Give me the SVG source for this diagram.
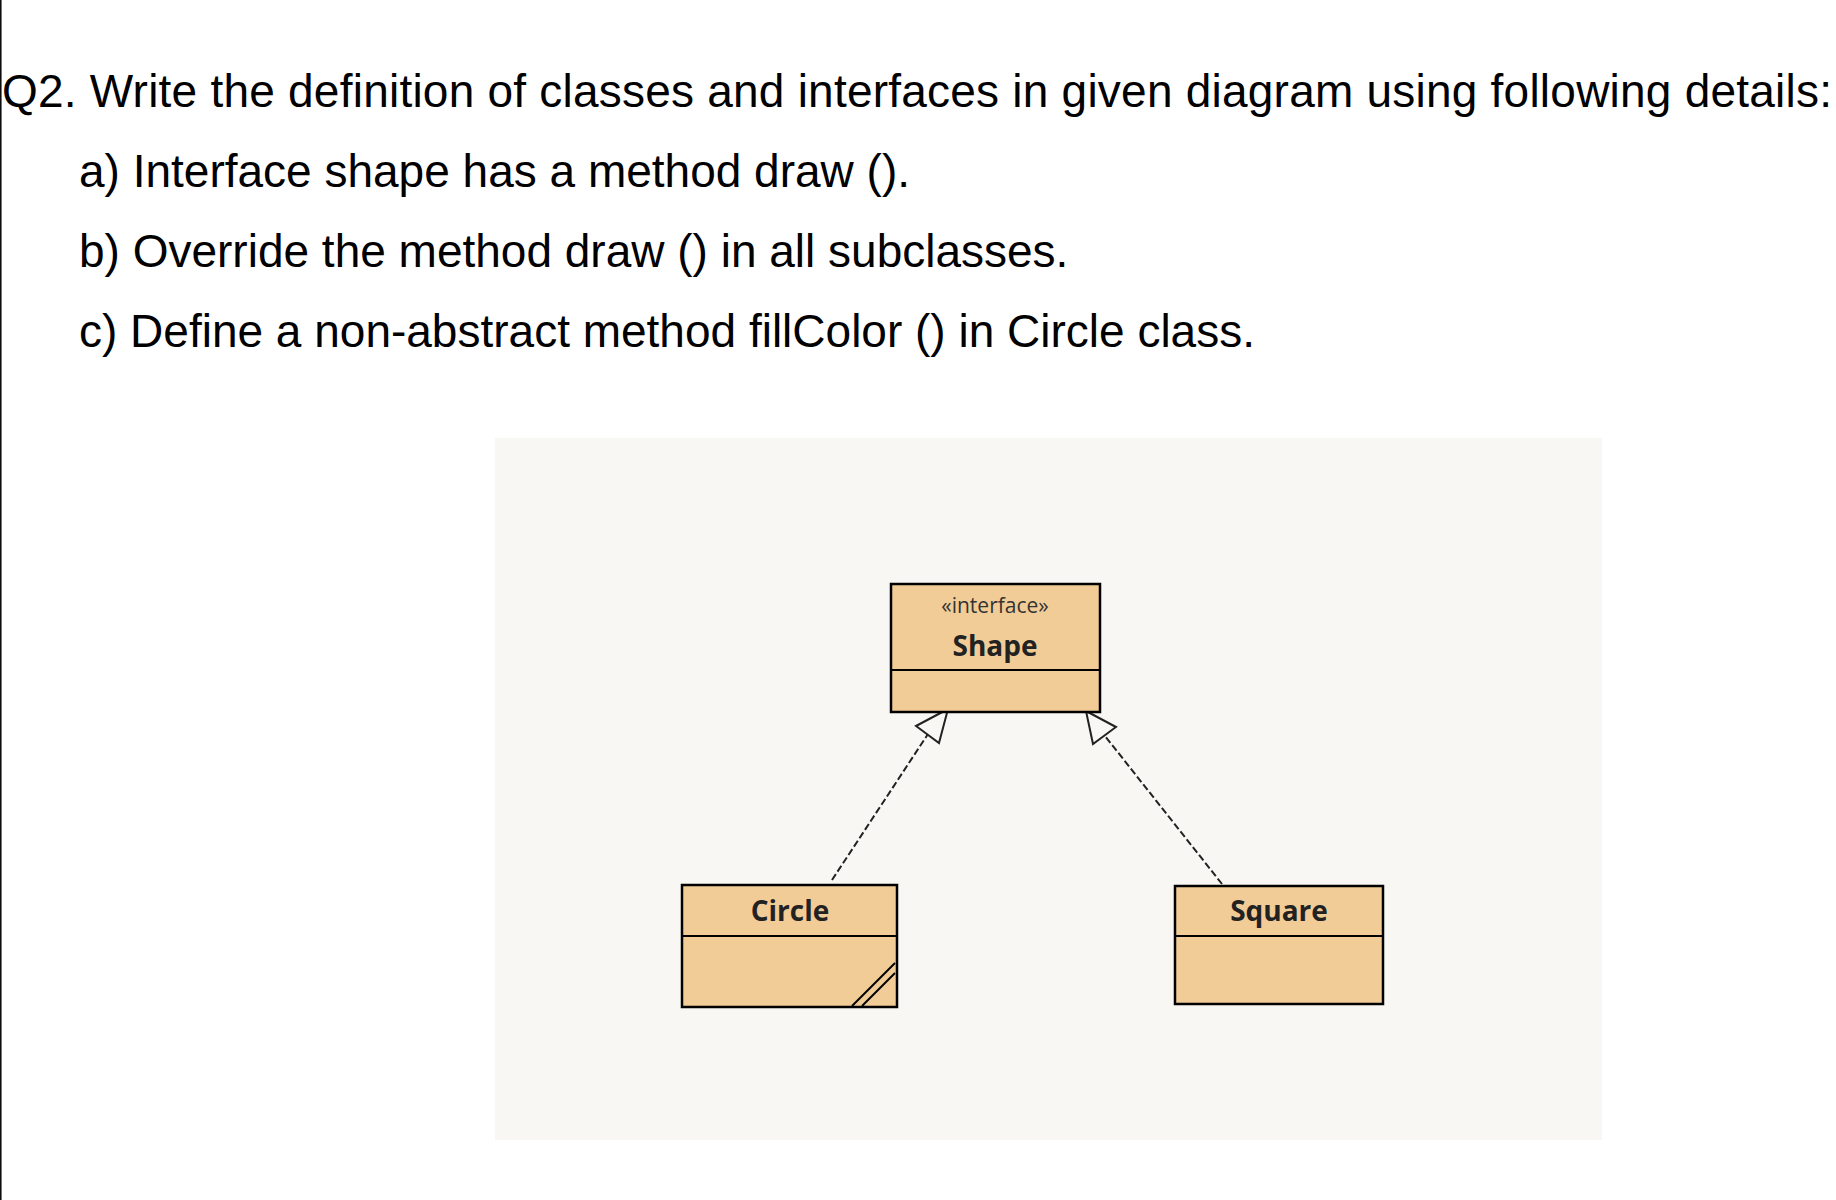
<svg xmlns="http://www.w3.org/2000/svg" width="1836" height="1200" viewBox="0 0 1836 1200">
<style>
.q{font-family:"Liberation Sans",Arial,sans-serif;font-size:46px;fill:#000}
.box{fill:#f2cc96;stroke:#000;stroke-width:2.5}
.nm{font-family:"Open Sans","Noto Sans",sans-serif;font-weight:bold;font-size:28px;fill:#222;text-anchor:middle}
.st{font-family:"Open Sans","Noto Sans",sans-serif;font-size:21px;fill:#333;text-anchor:middle}
.dash{stroke:#222;stroke-width:2;stroke-dasharray:7,3;fill:none}
.tri{fill:#f8f7f3;stroke:#222;stroke-width:2}
</style>
<rect width="1836" height="1200" fill="#fff"/>
<line x1="0.8" y1="0" x2="0.8" y2="1200" stroke="#000" stroke-width="1.5"/>
<text class="q" x="2" y="107" textLength="1830">Q2. Write the definition of classes and interfaces in given diagram using following details:</text>
<text class="q" x="79" y="187">a) Interface shape has a method draw ().</text>
<text class="q" x="79" y="267">b) Override the method draw () in all subclasses.</text>
<text class="q" x="79" y="347">c) Define a non-abstract method fillColor () in Circle class.</text>
<rect x="495" y="438" width="1107" height="702" fill="#f8f7f3"/>
<g id="connectors">
<line class="dash" x1="832" y1="880" x2="928" y2="734"/>
<polygon class="tri" points="948,709 916,726 939,743"/>
<line class="dash" x1="1222" y1="884" x2="1105" y2="736"/>
<polygon class="tri" points="1086,711 1093,744 1116,727"/>
</g>
<g id="shape">
<rect class="box" x="891" y="584" width="209" height="128"/>
<line x1="891" y1="670" x2="1100" y2="670" stroke="#000" stroke-width="2"/>
<text class="st" x="995" y="613">«interface»</text>
<text class="nm" x="995" y="656">Shape</text>
</g>
<g id="circle">
<rect class="box" x="682" y="885" width="215" height="122" stroke-width="6"/>
<line x1="682" y1="936" x2="897" y2="936" stroke="#000" stroke-width="2"/>
<line x1="852" y1="1006" x2="895" y2="963" stroke="#000" stroke-width="2"/>
<line x1="862" y1="1006" x2="895" y2="973" stroke="#000" stroke-width="2"/>
<text class="nm" x="790" y="921">Circle</text>
</g>
<g id="square">
<rect class="box" x="1175" y="886" width="208" height="118"/>
<line x1="1175" y1="936" x2="1383" y2="936" stroke="#000" stroke-width="2"/>
<text class="nm" x="1279" y="921">Square</text>
</g>
</svg>
